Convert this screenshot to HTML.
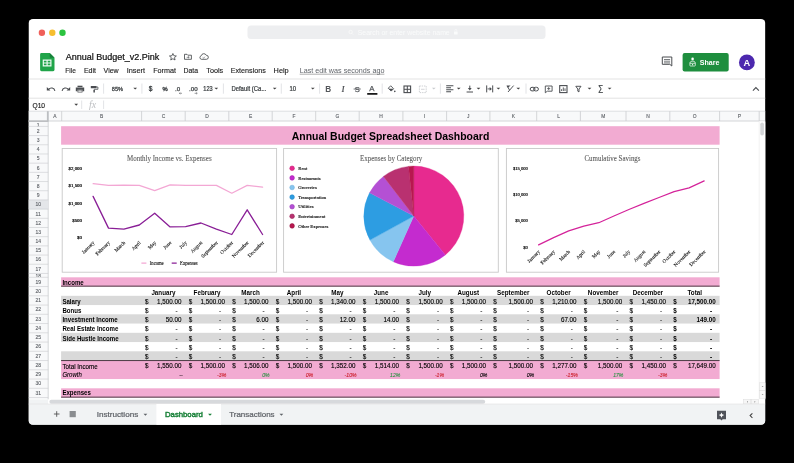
<!DOCTYPE html>
<html><head><meta charset="utf-8"><title>Annual Budget_v2.Pink</title>
<style>
html,body{margin:0;padding:0;background:#000;overflow:hidden}
svg{display:block}
text{white-space:pre}
.s{font-family:"Liberation Sans",sans-serif}
.r{font-family:"Liberation Serif",serif}
.b{font-weight:bold}
.i{font-style:italic}
</style></head><body>
<svg width="794" height="463" viewBox="0 0 794 463">
<rect width="794" height="463" fill="#000"/>
<clipPath id="win"><rect x="28.5" y="18.9" width="736.9" height="405.90000000000003" rx="4.5"/></clipPath>
<g clip-path="url(#win)">
<rect x="28.50" y="18.90" width="736.90" height="405.90" fill="#fff"/>
<circle cx="41.9" cy="32.7" r="3.2" fill="#f0605a"/>
<circle cx="52.3" cy="32.7" r="3.2" fill="#f6be2f"/>
<circle cx="62.5" cy="32.7" r="3.2" fill="#2bc33f"/>
<rect x="247.50" y="25.50" width="298.00" height="13.50" fill="#edeef0" rx="3.5"/>
<text class="s" transform="translate(357.70 34.60) scale(1.045 1)" font-size="6.6" fill="#fafbfb">Search or enter website name</text>
<circle cx="350.6" cy="32" r="1.7" fill="none" stroke="#fafbfb" stroke-width="0.7"/><line x1="351.9" y1="33.3" x2="353.2" y2="34.6" stroke="#fafbfb" stroke-width="0.7"/>
<rect x="454.00" y="31.40" width="3.60" height="3.00" fill="#fafbfb" rx="0.5"/>
<path d="M454.8 31.4v-1a1 1 0 0 1 2 0v1" fill="none" stroke="#fafbfb" stroke-width="0.6"/>
<g transform="translate(40.1 53)"><path d="M1.400 0H9.600L14.400 4.800V16.800a1.400 1.400 0 0 1-1.400 1.400H1.400A1.400 1.400 0 0 1 0 16.800V1.400A1.400 1.400 0 0 1 1.400 0Z" fill="#20a449"/><path d="M9.600 0L14.400 4.800H10.600A1 1 0 0 1 9.600 3.800Z" fill="#16803a"/><path d="M2.600 6.600h8.800v6.800H2.600Z M3.800 7.800v1.600h2.600v-1.600Z M7.600 7.800v1.600h2.600v-1.600Z M3.800 10.600v1.600h2.600v-1.600Z M7.600 10.600v1.600h2.600v-1.600Z" fill="#eafaf0" fill-rule="evenodd"/></g>
<text class="s" transform="translate(65.80 60.20)" font-size="9" fill="#111" stroke="#111" stroke-width="0.22">Annual Budget_v2.Pink</text>
<path d="M172.9 53.5l1 2.25 2.45.25-1.85 1.6.55 2.4-2.15-1.28-2.15 1.28.55-2.4-1.850-1.600 2.450-.25z" fill="none" stroke="#3c4043" stroke-width="0.8" stroke-linejoin="round"/>
<path d="M184.5 54.3h2.500l.8.9h3.600v4.100h-6.900z" fill="none" stroke="#3c4043" stroke-width="0.8" stroke-linejoin="round"/><path d="M186.700 57.300h2.500m-1-.9l1 .9-1 .9" fill="none" stroke="#3c4043" stroke-width="0.6"/>
<path d="M201.400 59.300a1.800 1.800 0 0 1-.2-3.500 2.700 2.700 0 0 1 5.100-.5 2 2 0 0 1 .1 4z" fill="none" stroke="#3c4043" stroke-width="0.8" stroke-linejoin="round"/><path d="M202.700 57.400l.8.800 1.400-1.500" fill="none" stroke="#3c4043" stroke-width="0.55"/>
<text class="s" transform="translate(65.30 72.90) scale(0.914 1)" font-size="7.2" fill="#1a1a1a" stroke="#1a1a1a" stroke-width="0.12">File</text>
<text class="s" transform="translate(83.90 72.90) scale(0.975 1)" font-size="7.2" fill="#1a1a1a" stroke="#1a1a1a" stroke-width="0.12">Edit</text>
<text class="s" transform="translate(103.60 72.90) scale(0.976 1)" font-size="7.2" fill="#1a1a1a" stroke="#1a1a1a" stroke-width="0.12">View</text>
<text class="s" transform="translate(126.70 72.90) scale(1.022 1)" font-size="7.2" fill="#1a1a1a" stroke="#1a1a1a" stroke-width="0.12">Insert</text>
<text class="s" transform="translate(153.20 72.90)" font-size="7.2" fill="#1a1a1a" stroke="#1a1a1a" stroke-width="0.12">Format</text>
<text class="s" transform="translate(183.40 72.90) scale(0.960 1)" font-size="7.2" fill="#1a1a1a" stroke="#1a1a1a" stroke-width="0.12">Data</text>
<text class="s" transform="translate(206.30 72.90) scale(1.006 1)" font-size="7.2" fill="#1a1a1a" stroke="#1a1a1a" stroke-width="0.12">Tools</text>
<text class="s" transform="translate(230.70 72.90)" font-size="7.2" fill="#1a1a1a" stroke="#1a1a1a" stroke-width="0.12">Extensions</text>
<text class="s" transform="translate(273.60 72.90) scale(1.020 1)" font-size="7.2" fill="#1a1a1a" stroke="#1a1a1a" stroke-width="0.12">Help</text>
<text class="s" transform="translate(299.70 72.90)" font-size="7.2" fill="#5f6368">Last edit was seconds ago</text>
<line x1="299.70" y1="74.20" x2="384.40" y2="74.20" stroke="#777" stroke-width="0.6"/>
<path d="M662.300 57h9.500v9l-2-1.700h-7.500z" fill="none" stroke="#4a4d51" stroke-width="1" stroke-linejoin="round"/><path d="M664 59.500h6.100M664 61.200h6.100M664 62.900h6.100" stroke="#6a6d71" stroke-width="0.900"/>
<rect x="682.60" y="53.10" width="46.10" height="18.40" fill="#1e8e3e" rx="2"/>
<circle cx="692.600" cy="58.900" r="1.300" fill="#fff"/><path d="M689.900 63.600c0-1.900 1.300-2.500 2.700-2.500s2.700.6 2.700 2.500" fill="none" stroke="#fff" stroke-width="0.900"/><rect x="689.900" y="63.300" width="5.400" height="2.700" rx="0.600" fill="none" stroke="#fff" stroke-width="0.700"/><circle cx="692.600" cy="64.700" r="0.600" fill="#fff"/>
<text class="s b" transform="translate(699.70 64.90) scale(0.958 1)" font-size="7.4" fill="#fff">Share</text>
<circle cx="746.9" cy="62.4" r="7.900" fill="#4c28ae"/>
<text class="s b" transform="translate(746.80 66.00)" font-size="9.3" fill="#fff" text-anchor="middle">A</text>
<line x1="28.50" y1="79.00" x2="765.40" y2="79.00" stroke="#e3e3e3" stroke-width="1"/>
<line x1="28.50" y1="98.20" x2="765.40" y2="98.20" stroke="#e3e3e3" stroke-width="1"/>
<path d="M48.600 89.300a3.600 3.600 0 0 1 6.300 1.500" fill="none" stroke="#4a4d51" stroke-width="1.100"/><path d="M46.800 87v3.600h3.600z" fill="#4a4d51"/>
<path d="M68.400 89.300a3.600 3.600 0 0 0-6.300 1.500" fill="none" stroke="#4a4d51" stroke-width="1.100"/><path d="M70.200 87v3.600h-3.600z" fill="#4a4d51"/>
<path d="M75.800 87.600h8.400v3.600h-1.700v-1.500h-5v1.500h-1.700z" fill="#4a4d51"/><rect x="77.500" y="85.700" width="5" height="1.400" fill="#4a4d51"/><rect x="77.900" y="90.100" width="4.200" height="2" fill="none" stroke="#4a4d51" stroke-width="0.700"/>
<path d="M90.800 86h5.800v2.200h-5.800z" fill="#4a4d51"/><path d="M96.600 87h1.300v2.300h-3.700v1" fill="none" stroke="#4a4d51" stroke-width="0.800"/><rect x="93.400" y="90" width="1.500" height="2.500" fill="#4a4d51"/>
<line x1="103.60" y1="83.50" x2="103.60" y2="93.70" stroke="#dadce0" stroke-width="0.8"/>
<text class="s" transform="translate(117.40 90.50) scale(0.911 1)" font-size="6.2" fill="#3c4043" text-anchor="middle" stroke="#3c4043" stroke-width="0.25">85%</text>
<path d="M133.30 87.65h3.80l-1.90 1.90z" fill="#444"/>
<line x1="141.90" y1="83.50" x2="141.90" y2="93.70" stroke="#dadce0" stroke-width="0.8"/>
<text class="s" transform="translate(150.50 91.10)" font-size="6.6" fill="#3c4043" text-anchor="middle" stroke="#3c4043" stroke-width="0.3">$</text>
<text class="s" transform="translate(165.10 90.90)" font-size="5.8" fill="#3c4043" text-anchor="middle" stroke="#3c4043" stroke-width="0.35">%</text>
<text class="s" transform="translate(177.50 91.00)" font-size="6.2" fill="#3c4043" text-anchor="middle" stroke="#3c4043" stroke-width="0.25">.0</text>
<path d="M182 93.300h-2.600m.9-.8l-.9.8.9.8" fill="none" stroke="#4a4d51" stroke-width="0.550"/>
<text class="s" transform="translate(193.40 91.00)" font-size="6.2" fill="#3c4043" text-anchor="middle" stroke="#3c4043" stroke-width="0.25">.00</text>
<path d="M194.600 93.300h2.600m-.9-.8l.9.8-.9.8" fill="none" stroke="#4a4d51" stroke-width="0.550"/>
<text class="s" transform="translate(203.30 90.60) scale(0.885 1)" font-size="6.3" fill="#3c4043" stroke="#3c4043" stroke-width="0.25">123</text>
<path d="M214.40 87.65h3.80l-1.90 1.90z" fill="#444"/>
<line x1="223.40" y1="83.50" x2="223.40" y2="93.70" stroke="#dadce0" stroke-width="0.8"/>
<text class="s" transform="translate(231.40 90.50) scale(0.943 1)" font-size="6.3" fill="#3c4043" stroke="#3c4043" stroke-width="0.22">Default (Ca...</text>
<path d="M272.80 87.65h3.80l-1.90 1.90z" fill="#444"/>
<line x1="281.30" y1="83.50" x2="281.30" y2="93.70" stroke="#dadce0" stroke-width="0.8"/>
<text class="s" transform="translate(289.40 90.50) scale(0.942 1)" font-size="6.3" fill="#3c4043" stroke="#3c4043" stroke-width="0.22">10</text>
<path d="M310.90 87.65h3.80l-1.90 1.90z" fill="#444"/>
<line x1="319.60" y1="83.50" x2="319.60" y2="93.70" stroke="#dadce0" stroke-width="0.8"/>
<text class="s b" transform="translate(328.30 92.00)" font-size="8.2" fill="#54575b" text-anchor="middle">B</text>
<text class="r b i" transform="translate(343.00 92.00)" font-size="8.2" fill="#54575b" text-anchor="middle">I</text>
<text class="s" transform="translate(357.20 91.80)" font-size="7.6" fill="#54575b" text-anchor="middle" stroke="#54575b" stroke-width="0.25">S</text>
<line x1="353.60" y1="89.00" x2="360.80" y2="89.00" stroke="#54575b" stroke-width="0.8"/>
<text class="s" transform="translate(371.90 90.60)" font-size="7.8" fill="#54575b" text-anchor="middle" stroke="#54575b" stroke-width="0.25">A</text>
<rect x="367.20" y="93.10" width="10.20" height="1.60" fill="#000"/>
<line x1="382.20" y1="83.50" x2="382.20" y2="93.70" stroke="#dadce0" stroke-width="0.8"/>
<path d="M390.700 85.800l2.900 2.900-2.400 2.400-2.900-2.900z" fill="none" stroke="#4a4d51" stroke-width="0.900"/><path d="M388.500 88.700h5l-2.300 2.300z" fill="#4a4d51"/><circle cx="394.800" cy="91.400" r="0.800" fill="#4a4d51"/>
<rect x="404" y="86" width="6.600" height="6.600" fill="none" stroke="#4a4d51" stroke-width="1.100"/><path d="M407.300 86v6.600M404 89.300h6.600" stroke="#4a4d51" stroke-width="1"/>
<rect x="419.400" y="86" width="6.800" height="6.600" fill="none" stroke="#c9cccf" stroke-width="0.900" stroke-dasharray="1.400 0.900"/><path d="M421 89.300h3.600" stroke="#c9cccf" stroke-width="0.800"/>
<path d="M431.90 87.65h3.80l-1.90 1.90z" fill="#c9cccf"/>
<line x1="440.40" y1="83.50" x2="440.40" y2="93.70" stroke="#dadce0" stroke-width="0.8"/>
<path d="M446.200 85.700h7.200M446.200 87.700h4.800M446.200 89.700h7.200M446.200 91.700h4.800" stroke="#4a4d51" stroke-width="1.050"/>
<path d="M456.80 87.65h3.80l-1.90 1.90z" fill="#444"/>
<path d="M466.600 92h6.400" stroke="#4a4d51" stroke-width="1"/><path d="M469.800 85.600v3.200" stroke="#4a4d51" stroke-width="1"/><path d="M467.900 88.100h3.800l-1.900 2.400z" fill="#4a4d51"/>
<path d="M476.60 87.65h3.80l-1.90 1.90z" fill="#444"/>
<path d="M486.700 85.400v7M492.700 85.400v7" stroke="#4a4d51" stroke-width="1"/><path d="M487.600 88.900h2.600" stroke="#4a4d51" stroke-width="0.850"/><path d="M489.700 87.100v3.600l2.200-1.800z" fill="#4a4d51"/>
<path d="M496.50 87.65h3.80l-1.90 1.90z" fill="#444"/>
<path d="M507 85.900l2.600 4.200M513.600 85.600l-5.600 6.400" stroke="#4a4d51" stroke-width="0.950" fill="none"/><path d="M506.600 85.600h4l-2.600 2.200z" fill="#4a4d51"/>
<path d="M516.40 87.65h3.80l-1.90 1.90z" fill="#444"/>
<line x1="526.00" y1="83.50" x2="526.00" y2="93.70" stroke="#dadce0" stroke-width="0.8"/>
<rect x="530.200" y="87.300" width="4.800" height="3.600" rx="1.800" fill="none" stroke="#4a4d51" stroke-width="1"/><rect x="533.600" y="87.300" width="4.800" height="3.600" rx="1.800" fill="none" stroke="#4a4d51" stroke-width="1"/>
<path d="M545.300 86h6.800v5.200h-4.800l-2 1.600z" fill="none" stroke="#4a4d51" stroke-width="0.900"/><path d="M548.700 87.100v3M547.200 88.600h3" stroke="#4a4d51" stroke-width="0.800"/>
<rect x="559.700" y="85.600" width="7.300" height="7" fill="none" stroke="#4a4d51" stroke-width="1.100"/><path d="M561.600 91v-1.800M563.300 91v-3.600M565 91v-2.600" stroke="#4a4d51" stroke-width="0.900"/>
<path d="M575.800 86.300h5.200l-2 2.700v2.900l-1.200-.7v-2.200z" fill="none" stroke="#4a4d51" stroke-width="0.950" stroke-linejoin="round"/>
<path d="M587.60 87.65h3.80l-1.90 1.90z" fill="#444"/>
<text class="s" transform="translate(600.60 92.60) scale(0.762 1)" font-size="10.4" fill="#3c4043" text-anchor="middle" stroke="#3c4043" stroke-width="0.15">Σ</text>
<path d="M607.70 87.65h3.80l-1.90 1.90z" fill="#444"/>
<path d="M752.900 90.600l3-3 3 3" fill="none" stroke="#4a4d51" stroke-width="1.100"/>
<text class="s" transform="translate(32.50 107.60) scale(0.966 1)" font-size="6.9" fill="#222" stroke="#222" stroke-width="0.15">Q10</text>
<path d="M74.30 103.85h3.80l-1.90 1.90z" fill="#444"/>
<line x1="81.70" y1="100.50" x2="81.70" y2="109.00" stroke="#dadce0" stroke-width="0.8"/>
<text class="r i" transform="translate(92.70 108.20)" font-size="10" fill="#bdbfc2" text-anchor="middle">fx</text>
<line x1="103.60" y1="100.50" x2="103.60" y2="109.00" stroke="#dadce0" stroke-width="0.8"/>
<rect x="28.50" y="111.20" width="736.90" height="9.80" fill="#f8f9fa"/>
<line x1="28.50" y1="111.20" x2="765.40" y2="111.20" stroke="#d5d7da" stroke-width="0.8"/>
<line x1="28.50" y1="121.00" x2="765.40" y2="121.00" stroke="#c9cbce" stroke-width="0.8"/>
<line x1="48.20" y1="111.20" x2="48.20" y2="121.00" stroke="#c9cbce" stroke-width="0.8"/>
<text class="s" transform="translate(54.95 118.00)" font-size="4.9" fill="#5f6368" text-anchor="middle" stroke="#5f6368" stroke-width="0.12">A</text>
<line x1="61.70" y1="111.20" x2="61.70" y2="121.00" stroke="#c9cbce" stroke-width="0.8"/>
<text class="s" transform="translate(101.65 118.00)" font-size="4.9" fill="#5f6368" text-anchor="middle" stroke="#5f6368" stroke-width="0.12">B</text>
<line x1="141.60" y1="111.20" x2="141.60" y2="121.00" stroke="#c9cbce" stroke-width="0.8"/>
<text class="s" transform="translate(163.40 118.00)" font-size="4.9" fill="#5f6368" text-anchor="middle" stroke="#5f6368" stroke-width="0.12">C</text>
<line x1="185.20" y1="111.20" x2="185.20" y2="121.00" stroke="#c9cbce" stroke-width="0.8"/>
<text class="s" transform="translate(207.00 118.00)" font-size="4.9" fill="#5f6368" text-anchor="middle" stroke="#5f6368" stroke-width="0.12">D</text>
<line x1="228.80" y1="111.20" x2="228.80" y2="121.00" stroke="#c9cbce" stroke-width="0.8"/>
<text class="s" transform="translate(250.50 118.00)" font-size="4.9" fill="#5f6368" text-anchor="middle" stroke="#5f6368" stroke-width="0.12">E</text>
<line x1="272.20" y1="111.20" x2="272.20" y2="121.00" stroke="#c9cbce" stroke-width="0.8"/>
<text class="s" transform="translate(293.95 118.00)" font-size="4.9" fill="#5f6368" text-anchor="middle" stroke="#5f6368" stroke-width="0.12">F</text>
<line x1="315.70" y1="111.20" x2="315.70" y2="121.00" stroke="#c9cbce" stroke-width="0.8"/>
<text class="s" transform="translate(337.45 118.00)" font-size="4.9" fill="#5f6368" text-anchor="middle" stroke="#5f6368" stroke-width="0.12">G</text>
<line x1="359.20" y1="111.20" x2="359.20" y2="121.00" stroke="#c9cbce" stroke-width="0.8"/>
<text class="s" transform="translate(381.05 118.00)" font-size="4.9" fill="#5f6368" text-anchor="middle" stroke="#5f6368" stroke-width="0.12">H</text>
<line x1="402.90" y1="111.20" x2="402.90" y2="121.00" stroke="#c9cbce" stroke-width="0.8"/>
<text class="s" transform="translate(424.75 118.00)" font-size="4.9" fill="#5f6368" text-anchor="middle" stroke="#5f6368" stroke-width="0.12">I</text>
<line x1="446.60" y1="111.20" x2="446.60" y2="121.00" stroke="#c9cbce" stroke-width="0.8"/>
<text class="s" transform="translate(468.25 118.00)" font-size="4.9" fill="#5f6368" text-anchor="middle" stroke="#5f6368" stroke-width="0.12">J</text>
<line x1="489.90" y1="111.20" x2="489.90" y2="121.00" stroke="#c9cbce" stroke-width="0.8"/>
<text class="s" transform="translate(513.30 118.00)" font-size="4.9" fill="#5f6368" text-anchor="middle" stroke="#5f6368" stroke-width="0.12">K</text>
<line x1="536.70" y1="111.20" x2="536.70" y2="121.00" stroke="#c9cbce" stroke-width="0.8"/>
<text class="s" transform="translate(558.55 118.00)" font-size="4.9" fill="#5f6368" text-anchor="middle" stroke="#5f6368" stroke-width="0.12">L</text>
<line x1="580.40" y1="111.20" x2="580.40" y2="121.00" stroke="#c9cbce" stroke-width="0.8"/>
<text class="s" transform="translate(603.20 118.00)" font-size="4.9" fill="#5f6368" text-anchor="middle" stroke="#5f6368" stroke-width="0.12">M</text>
<line x1="626.00" y1="111.20" x2="626.00" y2="121.00" stroke="#c9cbce" stroke-width="0.8"/>
<text class="s" transform="translate(647.90 118.00)" font-size="4.9" fill="#5f6368" text-anchor="middle" stroke="#5f6368" stroke-width="0.12">N</text>
<line x1="669.80" y1="111.20" x2="669.80" y2="121.00" stroke="#c9cbce" stroke-width="0.8"/>
<text class="s" transform="translate(694.70 118.00)" font-size="4.9" fill="#5f6368" text-anchor="middle" stroke="#5f6368" stroke-width="0.12">O</text>
<line x1="719.60" y1="111.20" x2="719.60" y2="121.00" stroke="#c9cbce" stroke-width="0.8"/>
<text class="s" transform="translate(739.40 118.00)" font-size="4.9" fill="#5f6368" text-anchor="middle" stroke="#5f6368" stroke-width="0.12">P</text>
<line x1="759.20" y1="111.20" x2="759.20" y2="121.00" stroke="#c9cbce" stroke-width="0.8"/>
<rect x="28.50" y="121.00" width="19.70" height="278.50" fill="#f8f9fa"/>
<line x1="48.20" y1="111.20" x2="48.20" y2="399.50" stroke="#c9cbce" stroke-width="0.8"/>
<rect x="28.50" y="199.92" width="19.70" height="9.19" fill="#e4e6e9"/>
<line x1="28.50" y1="121.00" x2="48.20" y2="121.00" stroke="#c9cbce" stroke-width="0.6"/>
<clipPath id="rc1"><rect x="28.5" y="121.40" width="20" height="4.80"/></clipPath><g clip-path="url(#rc1)">
<text class="s" transform="translate(38.20 127.30)" font-size="5" fill="#5f6368" text-anchor="middle" stroke="#5f6368" stroke-width="0.12">1</text>
</g>
<line x1="28.50" y1="126.40" x2="48.20" y2="126.40" stroke="#c9cbce" stroke-width="0.6"/>
<text class="s" transform="translate(38.20 132.80)" font-size="5" fill="#5f6368" text-anchor="middle" stroke="#5f6368" stroke-width="0.12">2</text>
<line x1="28.50" y1="135.59" x2="48.20" y2="135.59" stroke="#c9cbce" stroke-width="0.6"/>
<text class="s" transform="translate(38.20 141.99)" font-size="5" fill="#5f6368" text-anchor="middle" stroke="#5f6368" stroke-width="0.12">3</text>
<line x1="28.50" y1="144.78" x2="48.20" y2="144.78" stroke="#c9cbce" stroke-width="0.6"/>
<text class="s" transform="translate(38.20 151.18)" font-size="5" fill="#5f6368" text-anchor="middle" stroke="#5f6368" stroke-width="0.12">4</text>
<line x1="28.50" y1="153.97" x2="48.20" y2="153.97" stroke="#c9cbce" stroke-width="0.6"/>
<text class="s" transform="translate(38.20 160.37)" font-size="5" fill="#5f6368" text-anchor="middle" stroke="#5f6368" stroke-width="0.12">5</text>
<line x1="28.50" y1="163.16" x2="48.20" y2="163.16" stroke="#c9cbce" stroke-width="0.6"/>
<text class="s" transform="translate(38.20 169.56)" font-size="5" fill="#5f6368" text-anchor="middle" stroke="#5f6368" stroke-width="0.12">6</text>
<line x1="28.50" y1="172.35" x2="48.20" y2="172.35" stroke="#c9cbce" stroke-width="0.6"/>
<text class="s" transform="translate(38.20 178.75)" font-size="5" fill="#5f6368" text-anchor="middle" stroke="#5f6368" stroke-width="0.12">7</text>
<line x1="28.50" y1="181.54" x2="48.20" y2="181.54" stroke="#c9cbce" stroke-width="0.6"/>
<text class="s" transform="translate(38.20 187.94)" font-size="5" fill="#5f6368" text-anchor="middle" stroke="#5f6368" stroke-width="0.12">8</text>
<line x1="28.50" y1="190.73" x2="48.20" y2="190.73" stroke="#c9cbce" stroke-width="0.6"/>
<text class="s" transform="translate(38.20 197.13)" font-size="5" fill="#5f6368" text-anchor="middle" stroke="#5f6368" stroke-width="0.12">9</text>
<line x1="28.50" y1="199.92" x2="48.20" y2="199.92" stroke="#c9cbce" stroke-width="0.6"/>
<text class="s" transform="translate(38.20 206.32)" font-size="5" fill="#5f6368" text-anchor="middle" stroke="#5f6368" stroke-width="0.12">10</text>
<line x1="28.50" y1="209.11" x2="48.20" y2="209.11" stroke="#c9cbce" stroke-width="0.6"/>
<text class="s" transform="translate(38.20 215.51)" font-size="5" fill="#5f6368" text-anchor="middle" stroke="#5f6368" stroke-width="0.12">11</text>
<line x1="28.50" y1="218.30" x2="48.20" y2="218.30" stroke="#c9cbce" stroke-width="0.6"/>
<text class="s" transform="translate(38.20 224.70)" font-size="5" fill="#5f6368" text-anchor="middle" stroke="#5f6368" stroke-width="0.12">12</text>
<line x1="28.50" y1="227.49" x2="48.20" y2="227.49" stroke="#c9cbce" stroke-width="0.6"/>
<text class="s" transform="translate(38.20 233.89)" font-size="5" fill="#5f6368" text-anchor="middle" stroke="#5f6368" stroke-width="0.12">13</text>
<line x1="28.50" y1="236.68" x2="48.20" y2="236.68" stroke="#c9cbce" stroke-width="0.6"/>
<text class="s" transform="translate(38.20 243.08)" font-size="5" fill="#5f6368" text-anchor="middle" stroke="#5f6368" stroke-width="0.12">14</text>
<line x1="28.50" y1="245.87" x2="48.20" y2="245.87" stroke="#c9cbce" stroke-width="0.6"/>
<text class="s" transform="translate(38.20 252.27)" font-size="5" fill="#5f6368" text-anchor="middle" stroke="#5f6368" stroke-width="0.12">15</text>
<line x1="28.50" y1="255.06" x2="48.20" y2="255.06" stroke="#c9cbce" stroke-width="0.6"/>
<text class="s" transform="translate(38.20 261.45)" font-size="5" fill="#5f6368" text-anchor="middle" stroke="#5f6368" stroke-width="0.12">16</text>
<line x1="28.50" y1="264.25" x2="48.20" y2="264.25" stroke="#c9cbce" stroke-width="0.6"/>
<text class="s" transform="translate(38.20 270.65)" font-size="5" fill="#5f6368" text-anchor="middle" stroke="#5f6368" stroke-width="0.12">17</text>
<line x1="28.50" y1="273.44" x2="48.20" y2="273.44" stroke="#c9cbce" stroke-width="0.6"/>
<clipPath id="rc18"><rect x="28.5" y="273.84" width="20" height="3.26"/></clipPath><g clip-path="url(#rc18)">
<text class="s" transform="translate(38.20 278.20)" font-size="5" fill="#5f6368" text-anchor="middle" stroke="#5f6368" stroke-width="0.12">18</text>
</g>
<line x1="28.50" y1="277.30" x2="48.20" y2="277.30" stroke="#c9cbce" stroke-width="0.6"/>
<text class="s" transform="translate(38.20 283.73)" font-size="5" fill="#5f6368" text-anchor="middle" stroke="#5f6368" stroke-width="0.12">19</text>
<line x1="28.50" y1="286.55" x2="48.20" y2="286.55" stroke="#c9cbce" stroke-width="0.6"/>
<text class="s" transform="translate(38.20 292.98)" font-size="5" fill="#5f6368" text-anchor="middle" stroke="#5f6368" stroke-width="0.12">20</text>
<line x1="28.50" y1="295.80" x2="48.20" y2="295.80" stroke="#c9cbce" stroke-width="0.6"/>
<text class="s" transform="translate(38.20 302.23)" font-size="5" fill="#5f6368" text-anchor="middle" stroke="#5f6368" stroke-width="0.12">21</text>
<line x1="28.50" y1="305.05" x2="48.20" y2="305.05" stroke="#c9cbce" stroke-width="0.6"/>
<text class="s" transform="translate(38.20 311.48)" font-size="5" fill="#5f6368" text-anchor="middle" stroke="#5f6368" stroke-width="0.12">22</text>
<line x1="28.50" y1="314.30" x2="48.20" y2="314.30" stroke="#c9cbce" stroke-width="0.6"/>
<text class="s" transform="translate(38.20 320.73)" font-size="5" fill="#5f6368" text-anchor="middle" stroke="#5f6368" stroke-width="0.12">23</text>
<line x1="28.50" y1="323.55" x2="48.20" y2="323.55" stroke="#c9cbce" stroke-width="0.6"/>
<text class="s" transform="translate(38.20 329.98)" font-size="5" fill="#5f6368" text-anchor="middle" stroke="#5f6368" stroke-width="0.12">24</text>
<line x1="28.50" y1="332.80" x2="48.20" y2="332.80" stroke="#c9cbce" stroke-width="0.6"/>
<text class="s" transform="translate(38.20 339.23)" font-size="5" fill="#5f6368" text-anchor="middle" stroke="#5f6368" stroke-width="0.12">25</text>
<line x1="28.50" y1="342.05" x2="48.20" y2="342.05" stroke="#c9cbce" stroke-width="0.6"/>
<text class="s" transform="translate(38.20 348.48)" font-size="5" fill="#5f6368" text-anchor="middle" stroke="#5f6368" stroke-width="0.12">26</text>
<line x1="28.50" y1="351.30" x2="48.20" y2="351.30" stroke="#c9cbce" stroke-width="0.6"/>
<text class="s" transform="translate(38.20 357.73)" font-size="5" fill="#5f6368" text-anchor="middle" stroke="#5f6368" stroke-width="0.12">27</text>
<line x1="28.50" y1="360.55" x2="48.20" y2="360.55" stroke="#c9cbce" stroke-width="0.6"/>
<text class="s" transform="translate(38.20 366.98)" font-size="5" fill="#5f6368" text-anchor="middle" stroke="#5f6368" stroke-width="0.12">28</text>
<line x1="28.50" y1="369.80" x2="48.20" y2="369.80" stroke="#c9cbce" stroke-width="0.6"/>
<text class="s" transform="translate(38.20 376.23)" font-size="5" fill="#5f6368" text-anchor="middle" stroke="#5f6368" stroke-width="0.12">29</text>
<line x1="28.50" y1="379.05" x2="48.20" y2="379.05" stroke="#c9cbce" stroke-width="0.6"/>
<text class="s" transform="translate(38.20 385.48)" font-size="5" fill="#5f6368" text-anchor="middle" stroke="#5f6368" stroke-width="0.12">30</text>
<line x1="28.50" y1="388.30" x2="48.20" y2="388.30" stroke="#c9cbce" stroke-width="0.6"/>
<text class="s" transform="translate(38.20 394.73)" font-size="5" fill="#5f6368" text-anchor="middle" stroke="#5f6368" stroke-width="0.12">31</text>
<line x1="28.50" y1="397.55" x2="48.20" y2="397.55" stroke="#c9cbce" stroke-width="0.6"/>
<line x1="47.60" y1="111.20" x2="47.60" y2="121.80" stroke="#bdbfc2" stroke-width="1.4"/>
<line x1="28.50" y1="121.20" x2="48.30" y2="121.20" stroke="#bdbfc2" stroke-width="1.4"/>
<rect x="61.10" y="126.20" width="658.50" height="18.50" fill="#f2abd2"/>
<text class="s b" transform="translate(390.50 140.20) scale(0.910 1)" font-size="11.5" fill="#000" text-anchor="middle">Annual Budget Spreadsheet Dashboard</text>
<rect x="62.20" y="148.50" width="214.40" height="123.70" fill="#fff" stroke="#c8c8c8" stroke-width="0.9"/>
<text class="r" transform="translate(169.30 161.30) scale(0.973 1)" font-size="7.2" fill="#5e5e5e" text-anchor="middle" stroke="#5e5e5e" stroke-width="0.1">Monthly Income vs. Expenses</text>
<text class="r" transform="translate(82.00 169.60)" font-size="4.9" fill="#111" text-anchor="end" stroke="#111" stroke-width="0.22">$2,000</text>
<text class="r" transform="translate(82.00 187.30)" font-size="4.9" fill="#111" text-anchor="end" stroke="#111" stroke-width="0.22">$1,500</text>
<text class="r" transform="translate(82.00 204.70)" font-size="4.9" fill="#111" text-anchor="end" stroke="#111" stroke-width="0.22">$1,000</text>
<text class="r" transform="translate(82.00 221.80)" font-size="4.9" fill="#111" text-anchor="end" stroke="#111" stroke-width="0.22">$500</text>
<text class="r" transform="translate(82.00 239.20)" font-size="4.9" fill="#111" text-anchor="end" stroke="#111" stroke-width="0.22">$0</text>
<polyline points="93.1,183.7 108.5,185.4 123.9,185.2 139.3,185.4 154.7,190.6 170.1,184.9 185.6,185.4 201.0,185.4 216.4,185.4 231.8,193.2 247.2,185.4 262.6,187.1" fill="none" stroke="#f3a7d4" stroke-width="1.2" stroke-linejoin="round" stroke-linecap="round"/>
<polyline points="93.1,196.4 108.5,228.1 123.9,229.2 139.3,225.0 154.7,213.2 170.1,226.9 185.6,226.7 201.0,223.0 216.4,229.2 231.8,234.5 247.2,209.8 262.6,234.5" fill="none" stroke="#891e96" stroke-width="1.3" stroke-linejoin="round" stroke-linecap="round"/>
<text class="r" transform="translate(94.80 243.00) rotate(-45)" font-size="5" fill="#111" text-anchor="end" stroke="#111" stroke-width="0.1">January</text>
<text class="r" transform="translate(110.21 243.00) rotate(-45)" font-size="5" fill="#111" text-anchor="end" stroke="#111" stroke-width="0.1">February</text>
<text class="r" transform="translate(125.62 243.00) rotate(-45)" font-size="5" fill="#111" text-anchor="end" stroke="#111" stroke-width="0.1">March</text>
<text class="r" transform="translate(141.03 243.00) rotate(-45)" font-size="5" fill="#111" text-anchor="end" stroke="#111" stroke-width="0.1">April</text>
<text class="r" transform="translate(156.44 243.00) rotate(-45)" font-size="5" fill="#111" text-anchor="end" stroke="#111" stroke-width="0.1">May</text>
<text class="r" transform="translate(171.85 243.00) rotate(-45)" font-size="5" fill="#111" text-anchor="end" stroke="#111" stroke-width="0.1">June</text>
<text class="r" transform="translate(187.26 243.00) rotate(-45)" font-size="5" fill="#111" text-anchor="end" stroke="#111" stroke-width="0.1">July</text>
<text class="r" transform="translate(202.67 243.00) rotate(-45)" font-size="5" fill="#111" text-anchor="end" stroke="#111" stroke-width="0.1">August</text>
<text class="r" transform="translate(218.08 243.00) rotate(-45)" font-size="5" fill="#111" text-anchor="end" stroke="#111" stroke-width="0.1">September</text>
<text class="r" transform="translate(233.49 243.00) rotate(-45)" font-size="5" fill="#111" text-anchor="end" stroke="#111" stroke-width="0.1">October</text>
<text class="r" transform="translate(248.90 243.00) rotate(-45)" font-size="5" fill="#111" text-anchor="end" stroke="#111" stroke-width="0.1">November</text>
<text class="r" transform="translate(264.31 243.00) rotate(-45)" font-size="5" fill="#111" text-anchor="end" stroke="#111" stroke-width="0.1">December</text>
<line x1="141.40" y1="263.10" x2="146.40" y2="263.10" stroke="#f3a7d4" stroke-width="1.2"/>
<text class="r" transform="translate(149.80 264.50) scale(0.891 1)" font-size="5.2" fill="#1c1c1c" stroke="#1c1c1c" stroke-width="0.15">Income</text>
<line x1="171.70" y1="263.10" x2="176.70" y2="263.10" stroke="#891e96" stroke-width="1.3"/>
<text class="r" transform="translate(180.10 264.50) scale(0.891 1)" font-size="5.2" fill="#1c1c1c" stroke="#1c1c1c" stroke-width="0.15">Expenses</text>
<rect x="283.60" y="148.50" width="214.70" height="123.70" fill="#fff" stroke="#c8c8c8" stroke-width="0.9"/>
<text class="r" transform="translate(391.10 161.30) scale(0.968 1)" font-size="7.2" fill="#5e5e5e" text-anchor="middle" stroke="#5e5e5e" stroke-width="0.1">Expenses by Category</text>
<path d="M413.8 216.1L413.80 166.10A50 50 0 0 1 445.33 254.90Z" fill="#e72a8f" stroke="#e72a8f" stroke-width="0.35"/>
<path d="M413.8 216.1L445.33 254.90A50 50 0 0 1 393.30 261.71Z" fill="#c42bcf" stroke="#c42bcf" stroke-width="0.35"/>
<path d="M413.8 216.1L393.30 261.71A50 50 0 0 1 369.94 240.11Z" fill="#86c5ef" stroke="#86c5ef" stroke-width="0.35"/>
<path d="M413.8 216.1L369.94 240.11A50 50 0 0 1 369.57 192.78Z" fill="#2d9de2" stroke="#2d9de2" stroke-width="0.35"/>
<path d="M413.8 216.1L369.57 192.78A50 50 0 0 1 383.43 176.38Z" fill="#b450d4" stroke="#b450d4" stroke-width="0.35"/>
<path d="M413.8 216.1L383.43 176.38A50 50 0 0 1 408.49 166.38Z" fill="#b93170" stroke="#b93170" stroke-width="0.35"/>
<path d="M413.8 216.1L408.49 166.38A50 50 0 0 1 413.80 166.10Z" fill="#b8174f" stroke="#b8174f" stroke-width="0.35"/>
<circle cx="292.1" cy="168.3" r="2.300" fill="#e72a8f" stroke="#c81f78" stroke-width="0.600"/>
<text class="r" transform="translate(298.20 169.90)" font-size="4.8" fill="#1c1c1c" stroke="#1c1c1c" stroke-width="0.16">Rent</text>
<circle cx="292.1" cy="177.9" r="2.300" fill="#c42bcf" stroke="#a51fb0" stroke-width="0.600"/>
<text class="r" transform="translate(298.20 179.50)" font-size="4.8" fill="#1c1c1c" stroke="#1c1c1c" stroke-width="0.16">Restaurants</text>
<circle cx="292.1" cy="187.5" r="2.300" fill="#86c5ef" stroke="#6fb0dc" stroke-width="0.600"/>
<text class="r" transform="translate(298.20 189.10)" font-size="4.8" fill="#1c1c1c" stroke="#1c1c1c" stroke-width="0.16">Groceries</text>
<circle cx="292.1" cy="197.1" r="2.300" fill="#2d9de2" stroke="#2084c4" stroke-width="0.600"/>
<text class="r" transform="translate(298.20 198.70)" font-size="4.8" fill="#1c1c1c" stroke="#1c1c1c" stroke-width="0.16">Transportation</text>
<circle cx="292.1" cy="206.7" r="2.300" fill="#b450d4" stroke="#9a3cba" stroke-width="0.600"/>
<text class="r" transform="translate(298.20 208.30)" font-size="4.8" fill="#1c1c1c" stroke="#1c1c1c" stroke-width="0.16">Utilities</text>
<circle cx="292.1" cy="216.3" r="2.300" fill="#b93170" stroke="#992458" stroke-width="0.600"/>
<text class="r" transform="translate(298.20 217.90)" font-size="4.8" fill="#1c1c1c" stroke="#1c1c1c" stroke-width="0.16">Entertainment</text>
<circle cx="292.1" cy="225.9" r="2.300" fill="#b8174f" stroke="#960f3c" stroke-width="0.600"/>
<text class="r" transform="translate(298.20 227.50)" font-size="4.8" fill="#1c1c1c" stroke="#1c1c1c" stroke-width="0.16">Other Expenses</text>
<rect x="506.40" y="148.50" width="212.20" height="123.70" fill="#fff" stroke="#c8c8c8" stroke-width="0.9"/>
<text class="r" transform="translate(612.50 161.30) scale(0.964 1)" font-size="7.2" fill="#5e5e5e" text-anchor="middle" stroke="#5e5e5e" stroke-width="0.1">Cumulative Savings</text>
<text class="r" transform="translate(527.90 169.90) scale(0.940 1)" font-size="4.9" fill="#111" text-anchor="end" stroke="#111" stroke-width="0.2">$15,000</text>
<text class="r" transform="translate(527.90 196.30) scale(0.940 1)" font-size="4.9" fill="#111" text-anchor="end" stroke="#111" stroke-width="0.2">$10,000</text>
<text class="r" transform="translate(527.90 222.40) scale(0.940 1)" font-size="4.9" fill="#111" text-anchor="end" stroke="#111" stroke-width="0.2">$5,000</text>
<text class="r" transform="translate(527.90 248.50) scale(0.940 1)" font-size="4.9" fill="#111" text-anchor="end" stroke="#111" stroke-width="0.2">$0</text>
<polyline points="538.6,244.9 553.6,237.6 568.7,230.9 583.8,226.1 598.8,222.7 613.9,216.0 628.9,209.5 644.0,203.4 659.0,197.5 674.1,191.6 689.1,187.9 704.2,180.9" fill="none" stroke="#d4239a" stroke-width="1.2" stroke-linejoin="round" stroke-linecap="round"/>
<text class="r" transform="translate(540.30 252.00) rotate(-45)" font-size="5" fill="#111" text-anchor="end" stroke="#111" stroke-width="0.1">January</text>
<text class="r" transform="translate(555.35 252.00) rotate(-45)" font-size="5" fill="#111" text-anchor="end" stroke="#111" stroke-width="0.1">February</text>
<text class="r" transform="translate(570.40 252.00) rotate(-45)" font-size="5" fill="#111" text-anchor="end" stroke="#111" stroke-width="0.1">March</text>
<text class="r" transform="translate(585.45 252.00) rotate(-45)" font-size="5" fill="#111" text-anchor="end" stroke="#111" stroke-width="0.1">April</text>
<text class="r" transform="translate(600.50 252.00) rotate(-45)" font-size="5" fill="#111" text-anchor="end" stroke="#111" stroke-width="0.1">May</text>
<text class="r" transform="translate(615.55 252.00) rotate(-45)" font-size="5" fill="#111" text-anchor="end" stroke="#111" stroke-width="0.1">June</text>
<text class="r" transform="translate(630.60 252.00) rotate(-45)" font-size="5" fill="#111" text-anchor="end" stroke="#111" stroke-width="0.1">July</text>
<text class="r" transform="translate(645.65 252.00) rotate(-45)" font-size="5" fill="#111" text-anchor="end" stroke="#111" stroke-width="0.1">August</text>
<text class="r" transform="translate(660.70 252.00) rotate(-45)" font-size="5" fill="#111" text-anchor="end" stroke="#111" stroke-width="0.1">September</text>
<text class="r" transform="translate(675.75 252.00) rotate(-45)" font-size="5" fill="#111" text-anchor="end" stroke="#111" stroke-width="0.1">October</text>
<text class="r" transform="translate(690.80 252.00) rotate(-45)" font-size="5" fill="#111" text-anchor="end" stroke="#111" stroke-width="0.1">November</text>
<text class="r" transform="translate(705.85 252.00) rotate(-45)" font-size="5" fill="#111" text-anchor="end" stroke="#111" stroke-width="0.1">December</text>
<rect x="61.10" y="277.30" width="658.50" height="9.25" fill="#f2abd2"/>
<line x1="61.10" y1="286.15" x2="719.60" y2="286.15" stroke="#3a2a33" stroke-width="0.9"/>
<rect x="61.10" y="295.80" width="658.50" height="9.25" fill="#d9d9d9"/>
<rect x="61.10" y="314.30" width="658.50" height="9.25" fill="#d9d9d9"/>
<rect x="61.10" y="332.80" width="658.50" height="9.25" fill="#d9d9d9"/>
<rect x="61.10" y="351.30" width="658.50" height="9.25" fill="#d9d9d9"/>
<rect x="61.10" y="360.55" width="658.50" height="18.50" fill="#f2abd2"/>
<line x1="61.10" y1="360.55" x2="719.60" y2="360.55" stroke="#3a2a33" stroke-width="0.9"/>
<rect x="61.10" y="388.30" width="658.50" height="9.25" fill="#f2abd2"/>
<line x1="61.10" y1="397.15" x2="719.60" y2="397.15" stroke="#3a2a33" stroke-width="0.9"/>
<text class="s b" transform="translate(62.40 285.00) scale(0.860 1)" font-size="7.1" fill="#000">Income</text>
<text class="s b" transform="translate(62.40 395.40) scale(0.860 1)" font-size="7.1" fill="#000">Expenses</text>
<text class="s b" transform="translate(62.40 303.50) scale(0.860 1)" font-size="7.1" fill="#000">Salary</text>
<text class="s b" transform="translate(62.40 312.75) scale(0.860 1)" font-size="7.1" fill="#000">Bonus</text>
<text class="s b" transform="translate(62.40 322.00) scale(0.860 1)" font-size="7.1" fill="#000">Investment Income</text>
<text class="s b" transform="translate(62.40 331.25) scale(0.860 1)" font-size="7.1" fill="#000">Real Estate Income</text>
<text class="s b" transform="translate(62.40 340.50) scale(0.860 1)" font-size="7.1" fill="#000">Side Hustle Income</text>
<text class="s" transform="translate(62.40 368.55) scale(0.877 1)" font-size="7.1" fill="#000" stroke="#000" stroke-width="0.13">Total Income</text>
<text class="s i" transform="translate(62.40 377.20) scale(0.885 1)" font-size="6.8" fill="#000" stroke="#000" stroke-width="0.1">Growth</text>
<text class="s b" transform="translate(163.40 294.95) scale(0.885 1)" font-size="7.1" fill="#000" text-anchor="middle">January</text>
<text class="s b" transform="translate(207.00 294.95) scale(0.885 1)" font-size="7.1" fill="#000" text-anchor="middle">February</text>
<text class="s b" transform="translate(250.50 294.95) scale(0.885 1)" font-size="7.1" fill="#000" text-anchor="middle">March</text>
<text class="s b" transform="translate(293.95 294.95) scale(0.885 1)" font-size="7.1" fill="#000" text-anchor="middle">April</text>
<text class="s b" transform="translate(337.45 294.95) scale(0.885 1)" font-size="7.1" fill="#000" text-anchor="middle">May</text>
<text class="s b" transform="translate(381.05 294.95) scale(0.885 1)" font-size="7.1" fill="#000" text-anchor="middle">June</text>
<text class="s b" transform="translate(424.75 294.95) scale(0.885 1)" font-size="7.1" fill="#000" text-anchor="middle">July</text>
<text class="s b" transform="translate(468.25 294.95) scale(0.885 1)" font-size="7.1" fill="#000" text-anchor="middle">August</text>
<text class="s b" transform="translate(513.30 294.95) scale(0.885 1)" font-size="7.1" fill="#000" text-anchor="middle">September</text>
<text class="s b" transform="translate(558.55 294.95) scale(0.885 1)" font-size="7.1" fill="#000" text-anchor="middle">October</text>
<text class="s b" transform="translate(603.20 294.95) scale(0.885 1)" font-size="7.1" fill="#000" text-anchor="middle">November</text>
<text class="s b" transform="translate(647.90 294.95) scale(0.885 1)" font-size="7.1" fill="#000" text-anchor="middle">December</text>
<text class="s b" transform="translate(694.70 294.95) scale(0.885 1)" font-size="7.1" fill="#000" text-anchor="middle">Total</text>
<text class="s" transform="translate(146.80 303.50) scale(0.885 1)" font-size="7.1" fill="#000" text-anchor="middle" stroke="#000" stroke-width="0.13">$</text>
<text class="s" transform="translate(181.40 303.50) scale(0.885 1)" font-size="7.1" fill="#000" text-anchor="end" stroke="#000" stroke-width="0.13">1,500.00</text>
<text class="s" transform="translate(190.40 303.50) scale(0.885 1)" font-size="7.1" fill="#000" text-anchor="middle" stroke="#000" stroke-width="0.13">$</text>
<text class="s" transform="translate(225.00 303.50) scale(0.885 1)" font-size="7.1" fill="#000" text-anchor="end" stroke="#000" stroke-width="0.13">1,500.00</text>
<text class="s" transform="translate(234.00 303.50) scale(0.885 1)" font-size="7.1" fill="#000" text-anchor="middle" stroke="#000" stroke-width="0.13">$</text>
<text class="s" transform="translate(268.40 303.50) scale(0.885 1)" font-size="7.1" fill="#000" text-anchor="end" stroke="#000" stroke-width="0.13">1,500.00</text>
<text class="s" transform="translate(277.40 303.50) scale(0.885 1)" font-size="7.1" fill="#000" text-anchor="middle" stroke="#000" stroke-width="0.13">$</text>
<text class="s" transform="translate(311.90 303.50) scale(0.885 1)" font-size="7.1" fill="#000" text-anchor="end" stroke="#000" stroke-width="0.13">1,500.00</text>
<text class="s" transform="translate(320.90 303.50) scale(0.885 1)" font-size="7.1" fill="#000" text-anchor="middle" stroke="#000" stroke-width="0.13">$</text>
<text class="s" transform="translate(355.40 303.50) scale(0.885 1)" font-size="7.1" fill="#000" text-anchor="end" stroke="#000" stroke-width="0.13">1,340.00</text>
<text class="s" transform="translate(364.40 303.50) scale(0.885 1)" font-size="7.1" fill="#000" text-anchor="middle" stroke="#000" stroke-width="0.13">$</text>
<text class="s" transform="translate(399.10 303.50) scale(0.885 1)" font-size="7.1" fill="#000" text-anchor="end" stroke="#000" stroke-width="0.13">1,500.00</text>
<text class="s" transform="translate(408.10 303.50) scale(0.885 1)" font-size="7.1" fill="#000" text-anchor="middle" stroke="#000" stroke-width="0.13">$</text>
<text class="s" transform="translate(442.80 303.50) scale(0.885 1)" font-size="7.1" fill="#000" text-anchor="end" stroke="#000" stroke-width="0.13">1,500.00</text>
<text class="s" transform="translate(451.80 303.50) scale(0.885 1)" font-size="7.1" fill="#000" text-anchor="middle" stroke="#000" stroke-width="0.13">$</text>
<text class="s" transform="translate(486.10 303.50) scale(0.885 1)" font-size="7.1" fill="#000" text-anchor="end" stroke="#000" stroke-width="0.13">1,500.00</text>
<text class="s" transform="translate(495.10 303.50) scale(0.885 1)" font-size="7.1" fill="#000" text-anchor="middle" stroke="#000" stroke-width="0.13">$</text>
<text class="s" transform="translate(532.90 303.50) scale(0.885 1)" font-size="7.1" fill="#000" text-anchor="end" stroke="#000" stroke-width="0.13">1,500.00</text>
<text class="s" transform="translate(541.90 303.50) scale(0.885 1)" font-size="7.1" fill="#000" text-anchor="middle" stroke="#000" stroke-width="0.13">$</text>
<text class="s" transform="translate(576.60 303.50) scale(0.885 1)" font-size="7.1" fill="#000" text-anchor="end" stroke="#000" stroke-width="0.13">1,210.00</text>
<text class="s" transform="translate(585.60 303.50) scale(0.885 1)" font-size="7.1" fill="#000" text-anchor="middle" stroke="#000" stroke-width="0.13">$</text>
<text class="s" transform="translate(622.20 303.50) scale(0.885 1)" font-size="7.1" fill="#000" text-anchor="end" stroke="#000" stroke-width="0.13">1,500.00</text>
<text class="s" transform="translate(631.20 303.50) scale(0.885 1)" font-size="7.1" fill="#000" text-anchor="middle" stroke="#000" stroke-width="0.13">$</text>
<text class="s" transform="translate(666.00 303.50) scale(0.885 1)" font-size="7.1" fill="#000" text-anchor="end" stroke="#000" stroke-width="0.13">1,450.00</text>
<text class="s b" transform="translate(675.00 303.50) scale(0.885 1)" font-size="7.1" fill="#000" text-anchor="middle">$</text>
<text class="s b" transform="translate(715.80 303.50) scale(0.885 1)" font-size="7.1" fill="#000" text-anchor="end">17,500.00</text>
<text class="s" transform="translate(146.80 312.75) scale(0.885 1)" font-size="7.1" fill="#000" text-anchor="middle" stroke="#000" stroke-width="0.13">$</text>
<text class="s" transform="translate(177.60 312.75) scale(0.885 1)" font-size="7.1" fill="#000" text-anchor="end" stroke="#000" stroke-width="0.13">-</text>
<text class="s" transform="translate(190.40 312.75) scale(0.885 1)" font-size="7.1" fill="#000" text-anchor="middle" stroke="#000" stroke-width="0.13">$</text>
<text class="s" transform="translate(221.20 312.75) scale(0.885 1)" font-size="7.1" fill="#000" text-anchor="end" stroke="#000" stroke-width="0.13">-</text>
<text class="s" transform="translate(234.00 312.75) scale(0.885 1)" font-size="7.1" fill="#000" text-anchor="middle" stroke="#000" stroke-width="0.13">$</text>
<text class="s" transform="translate(264.60 312.75) scale(0.885 1)" font-size="7.1" fill="#000" text-anchor="end" stroke="#000" stroke-width="0.13">-</text>
<text class="s" transform="translate(277.40 312.75) scale(0.885 1)" font-size="7.1" fill="#000" text-anchor="middle" stroke="#000" stroke-width="0.13">$</text>
<text class="s" transform="translate(308.10 312.75) scale(0.885 1)" font-size="7.1" fill="#000" text-anchor="end" stroke="#000" stroke-width="0.13">-</text>
<text class="s" transform="translate(320.90 312.75) scale(0.885 1)" font-size="7.1" fill="#000" text-anchor="middle" stroke="#000" stroke-width="0.13">$</text>
<text class="s" transform="translate(351.60 312.75) scale(0.885 1)" font-size="7.1" fill="#000" text-anchor="end" stroke="#000" stroke-width="0.13">-</text>
<text class="s" transform="translate(364.40 312.75) scale(0.885 1)" font-size="7.1" fill="#000" text-anchor="middle" stroke="#000" stroke-width="0.13">$</text>
<text class="s" transform="translate(395.30 312.75) scale(0.885 1)" font-size="7.1" fill="#000" text-anchor="end" stroke="#000" stroke-width="0.13">-</text>
<text class="s" transform="translate(408.10 312.75) scale(0.885 1)" font-size="7.1" fill="#000" text-anchor="middle" stroke="#000" stroke-width="0.13">$</text>
<text class="s" transform="translate(439.00 312.75) scale(0.885 1)" font-size="7.1" fill="#000" text-anchor="end" stroke="#000" stroke-width="0.13">-</text>
<text class="s" transform="translate(451.80 312.75) scale(0.885 1)" font-size="7.1" fill="#000" text-anchor="middle" stroke="#000" stroke-width="0.13">$</text>
<text class="s" transform="translate(482.30 312.75) scale(0.885 1)" font-size="7.1" fill="#000" text-anchor="end" stroke="#000" stroke-width="0.13">-</text>
<text class="s" transform="translate(495.10 312.75) scale(0.885 1)" font-size="7.1" fill="#000" text-anchor="middle" stroke="#000" stroke-width="0.13">$</text>
<text class="s" transform="translate(529.10 312.75) scale(0.885 1)" font-size="7.1" fill="#000" text-anchor="end" stroke="#000" stroke-width="0.13">-</text>
<text class="s" transform="translate(541.90 312.75) scale(0.885 1)" font-size="7.1" fill="#000" text-anchor="middle" stroke="#000" stroke-width="0.13">$</text>
<text class="s" transform="translate(572.80 312.75) scale(0.885 1)" font-size="7.1" fill="#000" text-anchor="end" stroke="#000" stroke-width="0.13">-</text>
<text class="s" transform="translate(585.60 312.75) scale(0.885 1)" font-size="7.1" fill="#000" text-anchor="middle" stroke="#000" stroke-width="0.13">$</text>
<text class="s" transform="translate(618.40 312.75) scale(0.885 1)" font-size="7.1" fill="#000" text-anchor="end" stroke="#000" stroke-width="0.13">-</text>
<text class="s" transform="translate(631.20 312.75) scale(0.885 1)" font-size="7.1" fill="#000" text-anchor="middle" stroke="#000" stroke-width="0.13">$</text>
<text class="s" transform="translate(662.20 312.75) scale(0.885 1)" font-size="7.1" fill="#000" text-anchor="end" stroke="#000" stroke-width="0.13">-</text>
<text class="s b" transform="translate(675.00 312.75) scale(0.885 1)" font-size="7.1" fill="#000" text-anchor="middle">$</text>
<text class="s b" transform="translate(712.00 312.75) scale(0.885 1)" font-size="7.1" fill="#000" text-anchor="end">-</text>
<text class="s" transform="translate(146.80 322.00) scale(0.885 1)" font-size="7.1" fill="#000" text-anchor="middle" stroke="#000" stroke-width="0.13">$</text>
<text class="s" transform="translate(181.40 322.00) scale(0.885 1)" font-size="7.1" fill="#000" text-anchor="end" stroke="#000" stroke-width="0.13">50.00</text>
<text class="s" transform="translate(190.40 322.00) scale(0.885 1)" font-size="7.1" fill="#000" text-anchor="middle" stroke="#000" stroke-width="0.13">$</text>
<text class="s" transform="translate(221.20 322.00) scale(0.885 1)" font-size="7.1" fill="#000" text-anchor="end" stroke="#000" stroke-width="0.13">-</text>
<text class="s" transform="translate(234.00 322.00) scale(0.885 1)" font-size="7.1" fill="#000" text-anchor="middle" stroke="#000" stroke-width="0.13">$</text>
<text class="s" transform="translate(268.40 322.00) scale(0.885 1)" font-size="7.1" fill="#000" text-anchor="end" stroke="#000" stroke-width="0.13">6.00</text>
<text class="s" transform="translate(277.40 322.00) scale(0.885 1)" font-size="7.1" fill="#000" text-anchor="middle" stroke="#000" stroke-width="0.13">$</text>
<text class="s" transform="translate(308.10 322.00) scale(0.885 1)" font-size="7.1" fill="#000" text-anchor="end" stroke="#000" stroke-width="0.13">-</text>
<text class="s" transform="translate(320.90 322.00) scale(0.885 1)" font-size="7.1" fill="#000" text-anchor="middle" stroke="#000" stroke-width="0.13">$</text>
<text class="s" transform="translate(355.40 322.00) scale(0.885 1)" font-size="7.1" fill="#000" text-anchor="end" stroke="#000" stroke-width="0.13">12.00</text>
<text class="s" transform="translate(364.40 322.00) scale(0.885 1)" font-size="7.1" fill="#000" text-anchor="middle" stroke="#000" stroke-width="0.13">$</text>
<text class="s" transform="translate(399.10 322.00) scale(0.885 1)" font-size="7.1" fill="#000" text-anchor="end" stroke="#000" stroke-width="0.13">14.00</text>
<text class="s" transform="translate(408.10 322.00) scale(0.885 1)" font-size="7.1" fill="#000" text-anchor="middle" stroke="#000" stroke-width="0.13">$</text>
<text class="s" transform="translate(439.00 322.00) scale(0.885 1)" font-size="7.1" fill="#000" text-anchor="end" stroke="#000" stroke-width="0.13">-</text>
<text class="s" transform="translate(451.80 322.00) scale(0.885 1)" font-size="7.1" fill="#000" text-anchor="middle" stroke="#000" stroke-width="0.13">$</text>
<text class="s" transform="translate(482.30 322.00) scale(0.885 1)" font-size="7.1" fill="#000" text-anchor="end" stroke="#000" stroke-width="0.13">-</text>
<text class="s" transform="translate(495.10 322.00) scale(0.885 1)" font-size="7.1" fill="#000" text-anchor="middle" stroke="#000" stroke-width="0.13">$</text>
<text class="s" transform="translate(529.10 322.00) scale(0.885 1)" font-size="7.1" fill="#000" text-anchor="end" stroke="#000" stroke-width="0.13">-</text>
<text class="s" transform="translate(541.90 322.00) scale(0.885 1)" font-size="7.1" fill="#000" text-anchor="middle" stroke="#000" stroke-width="0.13">$</text>
<text class="s" transform="translate(576.60 322.00) scale(0.885 1)" font-size="7.1" fill="#000" text-anchor="end" stroke="#000" stroke-width="0.13">67.00</text>
<text class="s" transform="translate(585.60 322.00) scale(0.885 1)" font-size="7.1" fill="#000" text-anchor="middle" stroke="#000" stroke-width="0.13">$</text>
<text class="s" transform="translate(618.40 322.00) scale(0.885 1)" font-size="7.1" fill="#000" text-anchor="end" stroke="#000" stroke-width="0.13">-</text>
<text class="s" transform="translate(631.20 322.00) scale(0.885 1)" font-size="7.1" fill="#000" text-anchor="middle" stroke="#000" stroke-width="0.13">$</text>
<text class="s" transform="translate(662.20 322.00) scale(0.885 1)" font-size="7.1" fill="#000" text-anchor="end" stroke="#000" stroke-width="0.13">-</text>
<text class="s b" transform="translate(675.00 322.00) scale(0.885 1)" font-size="7.1" fill="#000" text-anchor="middle">$</text>
<text class="s b" transform="translate(715.80 322.00) scale(0.885 1)" font-size="7.1" fill="#000" text-anchor="end">149.00</text>
<text class="s" transform="translate(146.80 331.25) scale(0.885 1)" font-size="7.1" fill="#000" text-anchor="middle" stroke="#000" stroke-width="0.13">$</text>
<text class="s" transform="translate(177.60 331.25) scale(0.885 1)" font-size="7.1" fill="#000" text-anchor="end" stroke="#000" stroke-width="0.13">-</text>
<text class="s" transform="translate(190.40 331.25) scale(0.885 1)" font-size="7.1" fill="#000" text-anchor="middle" stroke="#000" stroke-width="0.13">$</text>
<text class="s" transform="translate(221.20 331.25) scale(0.885 1)" font-size="7.1" fill="#000" text-anchor="end" stroke="#000" stroke-width="0.13">-</text>
<text class="s" transform="translate(234.00 331.25) scale(0.885 1)" font-size="7.1" fill="#000" text-anchor="middle" stroke="#000" stroke-width="0.13">$</text>
<text class="s" transform="translate(264.60 331.25) scale(0.885 1)" font-size="7.1" fill="#000" text-anchor="end" stroke="#000" stroke-width="0.13">-</text>
<text class="s" transform="translate(277.40 331.25) scale(0.885 1)" font-size="7.1" fill="#000" text-anchor="middle" stroke="#000" stroke-width="0.13">$</text>
<text class="s" transform="translate(308.10 331.25) scale(0.885 1)" font-size="7.1" fill="#000" text-anchor="end" stroke="#000" stroke-width="0.13">-</text>
<text class="s" transform="translate(320.90 331.25) scale(0.885 1)" font-size="7.1" fill="#000" text-anchor="middle" stroke="#000" stroke-width="0.13">$</text>
<text class="s" transform="translate(351.60 331.25) scale(0.885 1)" font-size="7.1" fill="#000" text-anchor="end" stroke="#000" stroke-width="0.13">-</text>
<text class="s" transform="translate(364.40 331.25) scale(0.885 1)" font-size="7.1" fill="#000" text-anchor="middle" stroke="#000" stroke-width="0.13">$</text>
<text class="s" transform="translate(395.30 331.25) scale(0.885 1)" font-size="7.1" fill="#000" text-anchor="end" stroke="#000" stroke-width="0.13">-</text>
<text class="s" transform="translate(408.10 331.25) scale(0.885 1)" font-size="7.1" fill="#000" text-anchor="middle" stroke="#000" stroke-width="0.13">$</text>
<text class="s" transform="translate(439.00 331.25) scale(0.885 1)" font-size="7.1" fill="#000" text-anchor="end" stroke="#000" stroke-width="0.13">-</text>
<text class="s" transform="translate(451.80 331.25) scale(0.885 1)" font-size="7.1" fill="#000" text-anchor="middle" stroke="#000" stroke-width="0.13">$</text>
<text class="s" transform="translate(482.30 331.25) scale(0.885 1)" font-size="7.1" fill="#000" text-anchor="end" stroke="#000" stroke-width="0.13">-</text>
<text class="s" transform="translate(495.10 331.25) scale(0.885 1)" font-size="7.1" fill="#000" text-anchor="middle" stroke="#000" stroke-width="0.13">$</text>
<text class="s" transform="translate(529.10 331.25) scale(0.885 1)" font-size="7.1" fill="#000" text-anchor="end" stroke="#000" stroke-width="0.13">-</text>
<text class="s" transform="translate(541.90 331.25) scale(0.885 1)" font-size="7.1" fill="#000" text-anchor="middle" stroke="#000" stroke-width="0.13">$</text>
<text class="s" transform="translate(572.80 331.25) scale(0.885 1)" font-size="7.1" fill="#000" text-anchor="end" stroke="#000" stroke-width="0.13">-</text>
<text class="s" transform="translate(585.60 331.25) scale(0.885 1)" font-size="7.1" fill="#000" text-anchor="middle" stroke="#000" stroke-width="0.13">$</text>
<text class="s" transform="translate(618.40 331.25) scale(0.885 1)" font-size="7.1" fill="#000" text-anchor="end" stroke="#000" stroke-width="0.13">-</text>
<text class="s" transform="translate(631.20 331.25) scale(0.885 1)" font-size="7.1" fill="#000" text-anchor="middle" stroke="#000" stroke-width="0.13">$</text>
<text class="s" transform="translate(662.20 331.25) scale(0.885 1)" font-size="7.1" fill="#000" text-anchor="end" stroke="#000" stroke-width="0.13">-</text>
<text class="s b" transform="translate(675.00 331.25) scale(0.885 1)" font-size="7.1" fill="#000" text-anchor="middle">$</text>
<text class="s b" transform="translate(712.00 331.25) scale(0.885 1)" font-size="7.1" fill="#000" text-anchor="end">-</text>
<text class="s" transform="translate(146.80 340.50) scale(0.885 1)" font-size="7.1" fill="#000" text-anchor="middle" stroke="#000" stroke-width="0.13">$</text>
<text class="s" transform="translate(177.60 340.50) scale(0.885 1)" font-size="7.1" fill="#000" text-anchor="end" stroke="#000" stroke-width="0.13">-</text>
<text class="s" transform="translate(190.40 340.50) scale(0.885 1)" font-size="7.1" fill="#000" text-anchor="middle" stroke="#000" stroke-width="0.13">$</text>
<text class="s" transform="translate(221.20 340.50) scale(0.885 1)" font-size="7.1" fill="#000" text-anchor="end" stroke="#000" stroke-width="0.13">-</text>
<text class="s" transform="translate(234.00 340.50) scale(0.885 1)" font-size="7.1" fill="#000" text-anchor="middle" stroke="#000" stroke-width="0.13">$</text>
<text class="s" transform="translate(264.60 340.50) scale(0.885 1)" font-size="7.1" fill="#000" text-anchor="end" stroke="#000" stroke-width="0.13">-</text>
<text class="s" transform="translate(277.40 340.50) scale(0.885 1)" font-size="7.1" fill="#000" text-anchor="middle" stroke="#000" stroke-width="0.13">$</text>
<text class="s" transform="translate(308.10 340.50) scale(0.885 1)" font-size="7.1" fill="#000" text-anchor="end" stroke="#000" stroke-width="0.13">-</text>
<text class="s" transform="translate(320.90 340.50) scale(0.885 1)" font-size="7.1" fill="#000" text-anchor="middle" stroke="#000" stroke-width="0.13">$</text>
<text class="s" transform="translate(351.60 340.50) scale(0.885 1)" font-size="7.1" fill="#000" text-anchor="end" stroke="#000" stroke-width="0.13">-</text>
<text class="s" transform="translate(364.40 340.50) scale(0.885 1)" font-size="7.1" fill="#000" text-anchor="middle" stroke="#000" stroke-width="0.13">$</text>
<text class="s" transform="translate(395.30 340.50) scale(0.885 1)" font-size="7.1" fill="#000" text-anchor="end" stroke="#000" stroke-width="0.13">-</text>
<text class="s" transform="translate(408.10 340.50) scale(0.885 1)" font-size="7.1" fill="#000" text-anchor="middle" stroke="#000" stroke-width="0.13">$</text>
<text class="s" transform="translate(439.00 340.50) scale(0.885 1)" font-size="7.1" fill="#000" text-anchor="end" stroke="#000" stroke-width="0.13">-</text>
<text class="s" transform="translate(451.80 340.50) scale(0.885 1)" font-size="7.1" fill="#000" text-anchor="middle" stroke="#000" stroke-width="0.13">$</text>
<text class="s" transform="translate(482.30 340.50) scale(0.885 1)" font-size="7.1" fill="#000" text-anchor="end" stroke="#000" stroke-width="0.13">-</text>
<text class="s" transform="translate(495.10 340.50) scale(0.885 1)" font-size="7.1" fill="#000" text-anchor="middle" stroke="#000" stroke-width="0.13">$</text>
<text class="s" transform="translate(529.10 340.50) scale(0.885 1)" font-size="7.1" fill="#000" text-anchor="end" stroke="#000" stroke-width="0.13">-</text>
<text class="s" transform="translate(541.90 340.50) scale(0.885 1)" font-size="7.1" fill="#000" text-anchor="middle" stroke="#000" stroke-width="0.13">$</text>
<text class="s" transform="translate(572.80 340.50) scale(0.885 1)" font-size="7.1" fill="#000" text-anchor="end" stroke="#000" stroke-width="0.13">-</text>
<text class="s" transform="translate(585.60 340.50) scale(0.885 1)" font-size="7.1" fill="#000" text-anchor="middle" stroke="#000" stroke-width="0.13">$</text>
<text class="s" transform="translate(618.40 340.50) scale(0.885 1)" font-size="7.1" fill="#000" text-anchor="end" stroke="#000" stroke-width="0.13">-</text>
<text class="s" transform="translate(631.20 340.50) scale(0.885 1)" font-size="7.1" fill="#000" text-anchor="middle" stroke="#000" stroke-width="0.13">$</text>
<text class="s" transform="translate(662.20 340.50) scale(0.885 1)" font-size="7.1" fill="#000" text-anchor="end" stroke="#000" stroke-width="0.13">-</text>
<text class="s b" transform="translate(675.00 340.50) scale(0.885 1)" font-size="7.1" fill="#000" text-anchor="middle">$</text>
<text class="s b" transform="translate(712.00 340.50) scale(0.885 1)" font-size="7.1" fill="#000" text-anchor="end">-</text>
<text class="s" transform="translate(146.80 349.75) scale(0.885 1)" font-size="7.1" fill="#000" text-anchor="middle" stroke="#000" stroke-width="0.13">$</text>
<text class="s" transform="translate(177.60 349.75) scale(0.885 1)" font-size="7.1" fill="#000" text-anchor="end" stroke="#000" stroke-width="0.13">-</text>
<text class="s" transform="translate(190.40 349.75) scale(0.885 1)" font-size="7.1" fill="#000" text-anchor="middle" stroke="#000" stroke-width="0.13">$</text>
<text class="s" transform="translate(221.20 349.75) scale(0.885 1)" font-size="7.1" fill="#000" text-anchor="end" stroke="#000" stroke-width="0.13">-</text>
<text class="s" transform="translate(234.00 349.75) scale(0.885 1)" font-size="7.1" fill="#000" text-anchor="middle" stroke="#000" stroke-width="0.13">$</text>
<text class="s" transform="translate(264.60 349.75) scale(0.885 1)" font-size="7.1" fill="#000" text-anchor="end" stroke="#000" stroke-width="0.13">-</text>
<text class="s" transform="translate(277.40 349.75) scale(0.885 1)" font-size="7.1" fill="#000" text-anchor="middle" stroke="#000" stroke-width="0.13">$</text>
<text class="s" transform="translate(308.10 349.75) scale(0.885 1)" font-size="7.1" fill="#000" text-anchor="end" stroke="#000" stroke-width="0.13">-</text>
<text class="s" transform="translate(320.90 349.75) scale(0.885 1)" font-size="7.1" fill="#000" text-anchor="middle" stroke="#000" stroke-width="0.13">$</text>
<text class="s" transform="translate(351.60 349.75) scale(0.885 1)" font-size="7.1" fill="#000" text-anchor="end" stroke="#000" stroke-width="0.13">-</text>
<text class="s" transform="translate(364.40 349.75) scale(0.885 1)" font-size="7.1" fill="#000" text-anchor="middle" stroke="#000" stroke-width="0.13">$</text>
<text class="s" transform="translate(395.30 349.75) scale(0.885 1)" font-size="7.1" fill="#000" text-anchor="end" stroke="#000" stroke-width="0.13">-</text>
<text class="s" transform="translate(408.10 349.75) scale(0.885 1)" font-size="7.1" fill="#000" text-anchor="middle" stroke="#000" stroke-width="0.13">$</text>
<text class="s" transform="translate(439.00 349.75) scale(0.885 1)" font-size="7.1" fill="#000" text-anchor="end" stroke="#000" stroke-width="0.13">-</text>
<text class="s" transform="translate(451.80 349.75) scale(0.885 1)" font-size="7.1" fill="#000" text-anchor="middle" stroke="#000" stroke-width="0.13">$</text>
<text class="s" transform="translate(482.30 349.75) scale(0.885 1)" font-size="7.1" fill="#000" text-anchor="end" stroke="#000" stroke-width="0.13">-</text>
<text class="s" transform="translate(495.10 349.75) scale(0.885 1)" font-size="7.1" fill="#000" text-anchor="middle" stroke="#000" stroke-width="0.13">$</text>
<text class="s" transform="translate(529.10 349.75) scale(0.885 1)" font-size="7.1" fill="#000" text-anchor="end" stroke="#000" stroke-width="0.13">-</text>
<text class="s" transform="translate(541.90 349.75) scale(0.885 1)" font-size="7.1" fill="#000" text-anchor="middle" stroke="#000" stroke-width="0.13">$</text>
<text class="s" transform="translate(572.80 349.75) scale(0.885 1)" font-size="7.1" fill="#000" text-anchor="end" stroke="#000" stroke-width="0.13">-</text>
<text class="s" transform="translate(585.60 349.75) scale(0.885 1)" font-size="7.1" fill="#000" text-anchor="middle" stroke="#000" stroke-width="0.13">$</text>
<text class="s" transform="translate(618.40 349.75) scale(0.885 1)" font-size="7.1" fill="#000" text-anchor="end" stroke="#000" stroke-width="0.13">-</text>
<text class="s" transform="translate(631.20 349.75) scale(0.885 1)" font-size="7.1" fill="#000" text-anchor="middle" stroke="#000" stroke-width="0.13">$</text>
<text class="s" transform="translate(662.20 349.75) scale(0.885 1)" font-size="7.1" fill="#000" text-anchor="end" stroke="#000" stroke-width="0.13">-</text>
<text class="s b" transform="translate(675.00 349.75) scale(0.885 1)" font-size="7.1" fill="#000" text-anchor="middle">$</text>
<text class="s b" transform="translate(712.00 349.75) scale(0.885 1)" font-size="7.1" fill="#000" text-anchor="end">-</text>
<text class="s" transform="translate(146.80 359.00) scale(0.885 1)" font-size="7.1" fill="#000" text-anchor="middle" stroke="#000" stroke-width="0.13">$</text>
<text class="s" transform="translate(177.60 359.00) scale(0.885 1)" font-size="7.1" fill="#000" text-anchor="end" stroke="#000" stroke-width="0.13">-</text>
<text class="s" transform="translate(190.40 359.00) scale(0.885 1)" font-size="7.1" fill="#000" text-anchor="middle" stroke="#000" stroke-width="0.13">$</text>
<text class="s" transform="translate(221.20 359.00) scale(0.885 1)" font-size="7.1" fill="#000" text-anchor="end" stroke="#000" stroke-width="0.13">-</text>
<text class="s" transform="translate(234.00 359.00) scale(0.885 1)" font-size="7.1" fill="#000" text-anchor="middle" stroke="#000" stroke-width="0.13">$</text>
<text class="s" transform="translate(264.60 359.00) scale(0.885 1)" font-size="7.1" fill="#000" text-anchor="end" stroke="#000" stroke-width="0.13">-</text>
<text class="s" transform="translate(277.40 359.00) scale(0.885 1)" font-size="7.1" fill="#000" text-anchor="middle" stroke="#000" stroke-width="0.13">$</text>
<text class="s" transform="translate(308.10 359.00) scale(0.885 1)" font-size="7.1" fill="#000" text-anchor="end" stroke="#000" stroke-width="0.13">-</text>
<text class="s" transform="translate(320.90 359.00) scale(0.885 1)" font-size="7.1" fill="#000" text-anchor="middle" stroke="#000" stroke-width="0.13">$</text>
<text class="s" transform="translate(351.60 359.00) scale(0.885 1)" font-size="7.1" fill="#000" text-anchor="end" stroke="#000" stroke-width="0.13">-</text>
<text class="s" transform="translate(364.40 359.00) scale(0.885 1)" font-size="7.1" fill="#000" text-anchor="middle" stroke="#000" stroke-width="0.13">$</text>
<text class="s" transform="translate(395.30 359.00) scale(0.885 1)" font-size="7.1" fill="#000" text-anchor="end" stroke="#000" stroke-width="0.13">-</text>
<text class="s" transform="translate(408.10 359.00) scale(0.885 1)" font-size="7.1" fill="#000" text-anchor="middle" stroke="#000" stroke-width="0.13">$</text>
<text class="s" transform="translate(439.00 359.00) scale(0.885 1)" font-size="7.1" fill="#000" text-anchor="end" stroke="#000" stroke-width="0.13">-</text>
<text class="s" transform="translate(451.80 359.00) scale(0.885 1)" font-size="7.1" fill="#000" text-anchor="middle" stroke="#000" stroke-width="0.13">$</text>
<text class="s" transform="translate(482.30 359.00) scale(0.885 1)" font-size="7.1" fill="#000" text-anchor="end" stroke="#000" stroke-width="0.13">-</text>
<text class="s" transform="translate(495.10 359.00) scale(0.885 1)" font-size="7.1" fill="#000" text-anchor="middle" stroke="#000" stroke-width="0.13">$</text>
<text class="s" transform="translate(529.10 359.00) scale(0.885 1)" font-size="7.1" fill="#000" text-anchor="end" stroke="#000" stroke-width="0.13">-</text>
<text class="s" transform="translate(541.90 359.00) scale(0.885 1)" font-size="7.1" fill="#000" text-anchor="middle" stroke="#000" stroke-width="0.13">$</text>
<text class="s" transform="translate(572.80 359.00) scale(0.885 1)" font-size="7.1" fill="#000" text-anchor="end" stroke="#000" stroke-width="0.13">-</text>
<text class="s" transform="translate(585.60 359.00) scale(0.885 1)" font-size="7.1" fill="#000" text-anchor="middle" stroke="#000" stroke-width="0.13">$</text>
<text class="s" transform="translate(618.40 359.00) scale(0.885 1)" font-size="7.1" fill="#000" text-anchor="end" stroke="#000" stroke-width="0.13">-</text>
<text class="s" transform="translate(631.20 359.00) scale(0.885 1)" font-size="7.1" fill="#000" text-anchor="middle" stroke="#000" stroke-width="0.13">$</text>
<text class="s" transform="translate(662.20 359.00) scale(0.885 1)" font-size="7.1" fill="#000" text-anchor="end" stroke="#000" stroke-width="0.13">-</text>
<text class="s b" transform="translate(675.00 359.00) scale(0.885 1)" font-size="7.1" fill="#000" text-anchor="middle">$</text>
<text class="s b" transform="translate(712.00 359.00) scale(0.885 1)" font-size="7.1" fill="#000" text-anchor="end">-</text>
<text class="s" transform="translate(146.80 368.25) scale(0.885 1)" font-size="7.1" fill="#000" text-anchor="middle" stroke="#000" stroke-width="0.13">$</text>
<text class="s" transform="translate(181.40 368.25) scale(0.885 1)" font-size="7.1" fill="#000" text-anchor="end" stroke="#000" stroke-width="0.13">1,550.00</text>
<text class="s" transform="translate(190.40 368.25) scale(0.885 1)" font-size="7.1" fill="#000" text-anchor="middle" stroke="#000" stroke-width="0.13">$</text>
<text class="s" transform="translate(225.00 368.25) scale(0.885 1)" font-size="7.1" fill="#000" text-anchor="end" stroke="#000" stroke-width="0.13">1,500.00</text>
<text class="s" transform="translate(234.00 368.25) scale(0.885 1)" font-size="7.1" fill="#000" text-anchor="middle" stroke="#000" stroke-width="0.13">$</text>
<text class="s" transform="translate(268.40 368.25) scale(0.885 1)" font-size="7.1" fill="#000" text-anchor="end" stroke="#000" stroke-width="0.13">1,506.00</text>
<text class="s" transform="translate(277.40 368.25) scale(0.885 1)" font-size="7.1" fill="#000" text-anchor="middle" stroke="#000" stroke-width="0.13">$</text>
<text class="s" transform="translate(311.90 368.25) scale(0.885 1)" font-size="7.1" fill="#000" text-anchor="end" stroke="#000" stroke-width="0.13">1,500.00</text>
<text class="s" transform="translate(320.90 368.25) scale(0.885 1)" font-size="7.1" fill="#000" text-anchor="middle" stroke="#000" stroke-width="0.13">$</text>
<text class="s" transform="translate(355.40 368.25) scale(0.885 1)" font-size="7.1" fill="#000" text-anchor="end" stroke="#000" stroke-width="0.13">1,352.00</text>
<text class="s" transform="translate(364.40 368.25) scale(0.885 1)" font-size="7.1" fill="#000" text-anchor="middle" stroke="#000" stroke-width="0.13">$</text>
<text class="s" transform="translate(399.10 368.25) scale(0.885 1)" font-size="7.1" fill="#000" text-anchor="end" stroke="#000" stroke-width="0.13">1,514.00</text>
<text class="s" transform="translate(408.10 368.25) scale(0.885 1)" font-size="7.1" fill="#000" text-anchor="middle" stroke="#000" stroke-width="0.13">$</text>
<text class="s" transform="translate(442.80 368.25) scale(0.885 1)" font-size="7.1" fill="#000" text-anchor="end" stroke="#000" stroke-width="0.13">1,500.00</text>
<text class="s" transform="translate(451.80 368.25) scale(0.885 1)" font-size="7.1" fill="#000" text-anchor="middle" stroke="#000" stroke-width="0.13">$</text>
<text class="s" transform="translate(486.10 368.25) scale(0.885 1)" font-size="7.1" fill="#000" text-anchor="end" stroke="#000" stroke-width="0.13">1,500.00</text>
<text class="s" transform="translate(495.10 368.25) scale(0.885 1)" font-size="7.1" fill="#000" text-anchor="middle" stroke="#000" stroke-width="0.13">$</text>
<text class="s" transform="translate(532.90 368.25) scale(0.885 1)" font-size="7.1" fill="#000" text-anchor="end" stroke="#000" stroke-width="0.13">1,500.00</text>
<text class="s" transform="translate(541.90 368.25) scale(0.885 1)" font-size="7.1" fill="#000" text-anchor="middle" stroke="#000" stroke-width="0.13">$</text>
<text class="s" transform="translate(576.60 368.25) scale(0.885 1)" font-size="7.1" fill="#000" text-anchor="end" stroke="#000" stroke-width="0.13">1,277.00</text>
<text class="s" transform="translate(585.60 368.25) scale(0.885 1)" font-size="7.1" fill="#000" text-anchor="middle" stroke="#000" stroke-width="0.13">$</text>
<text class="s" transform="translate(622.20 368.25) scale(0.885 1)" font-size="7.1" fill="#000" text-anchor="end" stroke="#000" stroke-width="0.13">1,500.00</text>
<text class="s" transform="translate(631.20 368.25) scale(0.885 1)" font-size="7.1" fill="#000" text-anchor="middle" stroke="#000" stroke-width="0.13">$</text>
<text class="s" transform="translate(666.00 368.25) scale(0.885 1)" font-size="7.1" fill="#000" text-anchor="end" stroke="#000" stroke-width="0.13">1,450.00</text>
<text class="s" transform="translate(675.00 368.25) scale(0.885 1)" font-size="7.1" fill="#000" text-anchor="middle" stroke="#000" stroke-width="0.13">$</text>
<text class="s" transform="translate(715.80 368.25) scale(0.885 1)" font-size="7.1" fill="#000" text-anchor="end" stroke="#000" stroke-width="0.13">17,649.00</text>
<text class="s i" transform="translate(182.60 377.10) scale(0.885 1)" font-size="5.8" fill="#000" text-anchor="end" stroke="#000" stroke-width="0.12">--</text>
<text class="s i" transform="translate(226.20 377.10) scale(0.885 1)" font-size="5.8" fill="#cc1f2b" text-anchor="end" stroke="#cc1f2b" stroke-width="0.12">-3%</text>
<text class="s i" transform="translate(269.60 377.10) scale(0.885 1)" font-size="5.8" fill="#2f9448" text-anchor="end" stroke="#2f9448" stroke-width="0.12">0%</text>
<text class="s i" transform="translate(313.10 377.10) scale(0.885 1)" font-size="5.8" fill="#cc1f2b" text-anchor="end" stroke="#cc1f2b" stroke-width="0.12">0%</text>
<text class="s i" transform="translate(356.60 377.10) scale(0.885 1)" font-size="5.8" fill="#cc1f2b" text-anchor="end" stroke="#cc1f2b" stroke-width="0.12">-10%</text>
<text class="s i" transform="translate(400.30 377.10) scale(0.885 1)" font-size="5.8" fill="#2f9448" text-anchor="end" stroke="#2f9448" stroke-width="0.12">12%</text>
<text class="s i" transform="translate(444.00 377.10) scale(0.885 1)" font-size="5.8" fill="#cc1f2b" text-anchor="end" stroke="#cc1f2b" stroke-width="0.12">-1%</text>
<text class="s i" transform="translate(487.30 377.10) scale(0.885 1)" font-size="5.8" fill="#000" text-anchor="end" stroke="#000" stroke-width="0.12">0%</text>
<text class="s i" transform="translate(534.10 377.10) scale(0.885 1)" font-size="5.8" fill="#000" text-anchor="end" stroke="#000" stroke-width="0.12">0%</text>
<text class="s i" transform="translate(577.80 377.10) scale(0.885 1)" font-size="5.8" fill="#cc1f2b" text-anchor="end" stroke="#cc1f2b" stroke-width="0.12">-15%</text>
<text class="s i" transform="translate(623.40 377.10) scale(0.885 1)" font-size="5.8" fill="#2f9448" text-anchor="end" stroke="#2f9448" stroke-width="0.12">17%</text>
<text class="s i" transform="translate(667.20 377.10) scale(0.885 1)" font-size="5.8" fill="#cc1f2b" text-anchor="end" stroke="#cc1f2b" stroke-width="0.12">-3%</text>
<rect x="759.20" y="121.40" width="6.80" height="278.00" fill="#fff"/>
<line x1="759.20" y1="121.40" x2="759.20" y2="400.00" stroke="#ececec" stroke-width="0.7"/>
<rect x="760.30" y="122.50" width="3.60" height="13.00" fill="#d3d5d7" rx="1.8"/>
<rect x="759.60" y="382.80" width="6.00" height="7.60" fill="#f8f8f8" stroke="#dcdcdc" stroke-width="0.5"/>
<rect x="759.60" y="390.60" width="6.00" height="7.60" fill="#f8f8f8" stroke="#dcdcdc" stroke-width="0.5"/>
<path d="M761.600 387.100h2l-1-1.100zM761.600 393.900h2l-1 1.100z" fill="#888"/>
<rect x="28.50" y="399.50" width="19.70" height="4.60" fill="#f1f3f4"/>
<rect x="48.20" y="399.50" width="717.20" height="4.60" fill="#fff"/>
<rect x="49.40" y="399.70" width="435.80" height="4.00" fill="#d7d9dc" rx="2"/>
<rect x="743.40" y="399.60" width="7.40" height="4.40" fill="#f6f6f6" stroke="#dcdcdc" stroke-width="0.5"/>
<rect x="751.20" y="399.60" width="7.40" height="4.40" fill="#f6f6f6" stroke="#dcdcdc" stroke-width="0.5"/>
<path d="M747.800 400.900l-1 .9 1 .9zM754.500 400.900l1 .9-1 .9z" fill="#777"/>
<rect x="28.50" y="404.00" width="736.90" height="21.00" fill="#f1f3f4"/>
<line x1="28.50" y1="404.00" x2="765.40" y2="404.00" stroke="#e0e0e0" stroke-width="0.6"/>
<rect x="156.40" y="404.00" width="64.60" height="21.00" fill="#fff"/>
<path d="M56.700 411.200v5.600M53.900 414h5.600" stroke="#555" stroke-width="0.900"/>
<rect x="69.60" y="411.00" width="6.20" height="6.20" fill="#8a8d90"/>
<text class="s" transform="translate(96.70 417.30) scale(1.099 1)" font-size="7.4" fill="#5f6368" stroke="#5f6368" stroke-width="0.22">Instructions</text>
<path d="M143.50 413.75h3.80l-1.90 1.90z" fill="#5f6368"/>
<text class="s" transform="translate(165.00 417.30) scale(1.047 1)" font-size="7.4" fill="#188038" stroke="#188038" stroke-width="0.42">Dashboard</text>
<path d="M208.10 413.75h3.80l-1.90 1.90z" fill="#188038"/>
<text class="s" transform="translate(229.20 417.30) scale(1.081 1)" font-size="7.4" fill="#5f6368" stroke="#5f6368" stroke-width="0.22">Transactions</text>
<path d="M279.50 413.75h3.80l-1.90 1.90z" fill="#5f6368"/>
<path d="M717 410.800h9v8.400h-3.300l-1.200 1.400-1.200-1.400h-3.300z" fill="#50535a"/><path d="M721.500 412.400l.8 1.900 1.900.8-1.900.8-.8 1.900-.8-1.900-1.900-.8 1.900-.8z" fill="#fff"/>
<path d="M752.400 413.300l-2.300 2.300 2.300 2.300" fill="none" stroke="#444" stroke-width="1.100"/>
</g>
</svg>
</body></html>
